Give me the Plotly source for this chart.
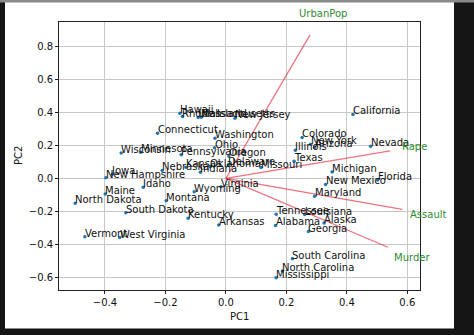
import plotly.graph_objects as go

# Scaled PCA scores of the USArrests data (PC1, PC2)
states = [
    "Alabama", "Alaska", "Arizona", "Arkansas", "California", "Colorado",
    "Connecticut", "Delaware", "Florida", "Georgia", "Hawaii", "Idaho",
    "Illinois", "Indiana", "Iowa", "Kansas", "Kentucky", "Louisiana", "Maine",
    "Maryland", "Massachusetts", "Michigan", "Minnesota", "Mississippi",
    "Missouri", "Montana", "Nebraska", "Nevada", "New Hampshire", "New Jersey",
    "New Mexico", "New York", "North Carolina", "North Dakota", "Ohio",
    "Oklahoma", "Oregon", "Pennsylvania", "Rhode Island", "South Carolina",
    "South Dakota", "Tennessee", "Texas", "Utah", "Vermont", "Virginia",
    "Washington", "West Virginia", "Wisconsin", "Wyoming",
]
pc1 = [
    0.1641, 0.3247, 0.2936, -0.0236, 0.4203, 0.2522,
    -0.2262, 0.0079, 0.5017, 0.2730, -0.1520, -0.2731,
    0.2296, -0.0842, -0.3753, -0.1327, -0.1250, 0.2606, -0.3991,
    0.2936, -0.0810, 0.3511, -0.2819, 0.1659,
    0.1160, -0.1974, -0.2108, 0.4787, -0.3970, 0.0302,
    0.3297, 0.2802, 0.1871, -0.4983, -0.0376,
    -0.0519, 0.0098, -0.1479, -0.1438, 0.2199,
    -0.3310, 0.1665, 0.2257, -0.0917, -0.4665, -0.0160,
    -0.0361, -0.3511, -0.3463, -0.1048,
]
pc2 = [
    -0.2859, -0.2707, 0.1882, -0.2825, 0.3892, 0.2491,
    0.2747, 0.0821, -0.0099, -0.3226, 0.3962, -0.0532,
    0.1720, 0.0382, 0.0262, 0.0682, -0.2418, -0.2197, -0.0950,
    -0.1079, 0.3720, 0.0392, 0.1595, -0.6038,
    0.0664, -0.1354, 0.0489, 0.1957, 0.0046, 0.3656,
    -0.0360, 0.2077, -0.5620, -0.1511, 0.1872,
    0.0726, 0.1366, 0.1441, 0.3764, -0.4877,
    -0.2077, -0.2170, 0.1041, 0.3712, -0.3537, -0.0504,
    0.2447, -0.3594, 0.1542, -0.0810,
]

# Variable loadings on PC1 and PC2
features = ["Murder", "Assault", "UrbanPop", "Rape"]
load1 = [0.5359, 0.5832, 0.2782, 0.5434]
load2 = [-0.4182, -0.1880, 0.8728, 0.1673]

x_ticks = [-0.4, -0.2, 0.0, 0.2, 0.4, 0.6]
y_ticks = [-0.6, -0.4, -0.2, 0.0, 0.2, 0.4, 0.6, 0.8]

X_RANGE = [-0.552, 0.642]
Y_RANGE = [-0.678, 0.951]

W, H = 474, 335
ML, MR, MT, MB = 59, 54, 22, 45
PW, PH = W - ML - MR, H - MT - MB

FONT = "DejaVu Sans"


def px_x(px):
    return (px - ML) / PW


def px_y(py):
    return (H - MB - py) / PH


def data_to_paper_x(v):
    return (v - X_RANGE[0]) / (X_RANGE[1] - X_RANGE[0])


def data_to_paper_y(v):
    return (v - Y_RANGE[0]) / (Y_RANGE[1] - Y_RANGE[0])


def fmt(v):
    s = f"{v:.1f}"
    return s.replace("-", "\u2212")


fig = go.Figure()

# loading vectors
for f, a, b in zip(features, load1, load2):
    fig.add_trace(go.Scatter(
        x=[0, a], y=[0, b], mode="lines",
        line=dict(color="rgba(225,40,60,0.65)", width=1.3),
        hoverinfo="skip", showlegend=False,
    ))

# state scores
fig.add_trace(go.Scatter(
    x=pc1, y=pc2, mode="markers",
    marker=dict(color="#1f77b4", size=3.5, line=dict(width=0)),
    text=states, showlegend=False,
))

annotations = []
for s, a, b in zip(states, pc1, pc2):
    annotations.append(dict(
        x=a, y=b, text=s, showarrow=False,
        xanchor="left", yanchor="bottom", xshift=-1, yshift=-3, borderpad=0,
        font=dict(family=FONT, size=10, color="#111111"),
    ))
# variable names just beyond the tips of the loading vectors
# (placed in paper coordinates so they may sit outside the axes)
for f, a, b in zip(features, load1, load2):
    annotations.append(dict(
        xref="paper", yref="paper",
        x=data_to_paper_x(a * 1.15), y=data_to_paper_y(b * 1.15),
        text=f, showarrow=False,
        xanchor="center", yanchor="middle", borderpad=0,
        font=dict(family=FONT, size=10, color="#2e8b2e"),
    ))

# axis titles
annotations.append(dict(
    xref="paper", yref="paper", x=0.5, y=px_y(316), text="PC1",
    showarrow=False, xanchor="center", yanchor="middle",
    font=dict(family=FONT, size=10, color="#111111"),
))
annotations.append(dict(
    xref="paper", yref="paper", x=px_x(18), y=0.5, text="PC2", textangle=-90,
    showarrow=False, xanchor="center", yanchor="middle",
    font=dict(family=FONT, size=10, color="#111111"),
))

# surrounding frame of the figure window
shapes = [
    dict(type="rect", xref="paper", yref="paper", layer="above",
         x0=px_x(0), x1=px_x(5), y0=px_y(H), y1=px_y(0),
         fillcolor="#151515", line=dict(width=0)),
    dict(type="rect", xref="paper", yref="paper", layer="above",
         x0=px_x(454), x1=px_x(W), y0=px_y(H), y1=px_y(0),
         fillcolor="#151515", line=dict(width=0)),
    dict(type="rect", xref="paper", yref="paper", layer="above",
         x0=px_x(0), x1=px_x(W), y0=px_y(H), y1=px_y(328.5),
         fillcolor="#151515", line=dict(width=0)),
    dict(type="rect", xref="paper", yref="paper", layer="above",
         x0=px_x(0), x1=px_x(W), y0=px_y(2.5), y1=px_y(0),
         fillcolor="#8a8a8a", line=dict(width=0)),
]

axis_common = dict(
    showgrid=True, gridcolor="#c8c8c8", gridwidth=0.8,
    zeroline=False, showline=True, linecolor="#222222", linewidth=0.9,
    mirror=True, ticks="outside", ticklen=3, tickwidth=0.8,
    tickcolor="#222222",
    tickfont=dict(family=FONT, size=10, color="#111111"),
)

fig.update_layout(
    width=W, height=H,
    margin=dict(l=ML, r=MR, t=MT, b=MB),
    paper_bgcolor="white", plot_bgcolor="white",
    font=dict(family=FONT, size=10),
    xaxis=dict(range=X_RANGE, tickvals=x_ticks,
               ticktext=[fmt(v) for v in x_ticks], **axis_common),
    yaxis=dict(range=Y_RANGE, tickvals=y_ticks,
               ticktext=[fmt(v) for v in y_ticks], **axis_common),
    annotations=annotations,
    shapes=shapes,
    hovermode=False,
)

fig.write_html("out.html")
